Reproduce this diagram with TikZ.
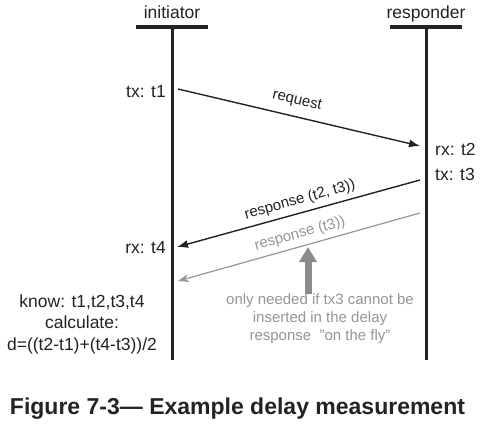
\documentclass[tikz,border=0pt]{standalone}
\usepackage{fontspec}
\setmainfont{Liberation Sans}
\usetikzlibrary{arrows.meta}
\definecolor{ink}{RGB}{35,35,35}
\definecolor{lgray}{RGB}{150,150,150}
\definecolor{mgray}{RGB}{140,140,140}
\begin{document}
\begin{tikzpicture}[x=1pt,y=-1pt,
  lbl/.style={font=\fontsize{17.5}{21}\selectfont, text=ink, inner sep=0pt},
  msg/.style={font=\fontsize{15}{18}\selectfont, inner sep=0pt},
  note/.style={font=\fontsize{15}{18}\selectfont, text=lgray, inner sep=0pt, anchor=base},
  life/.style={line width=3pt, draw=ink},
  bar/.style={line width=3.5pt, draw=ink},
  blackarrow/.style={line width=1.4pt, draw=ink, -{Latex[length=11pt,width=8pt]}},
  grayarrow/.style={line width=1.2pt, draw=lgray, -{Stealth[length=11pt,width=8pt]}},
  bigarrow/.style={line width=7pt, draw=mgray, -{Triangle[length=15pt,width=17pt]}},
]
\useasboundingbox (0,0) rectangle (480,424);
\fill[white] (0,0) rectangle (480,424);

% headers
\node[lbl, anchor=base] (init) at (172,18) {initiator};
\node[lbl, anchor=base] (resp) at (426,18) {responder};

% lifelines
\coordinate (iL) at (136,27); \coordinate (iR) at (208,27);
\coordinate (rL) at (390,27); \coordinate (rR) at (462,27);
\coordinate (iTop) at (172,27); \coordinate (iBot) at (172,360);
\coordinate (rTop) at (426,27); \coordinate (rBot) at (426,360);
\draw[bar] (iL) -- (iR);
\draw[bar] (rL) -- (rR);
\draw[life] (iTop) -- (iBot);
\draw[life] (rTop) -- (rBot);

% time labels
\node[lbl, anchor=base east] (tx1) at (166,97) {tx: t1};
\node[lbl, anchor=base west] (rx2) at (435,155) {rx: t2};
\node[lbl, anchor=base west] (tx3) at (435,180) {tx: t3};
\node[lbl, anchor=base east] (rx4) at (166,253) {rx: t4};

% message events
\coordinate (e1) at (178,89);
\coordinate (e2) at (420,146);
\coordinate (e3) at (420,180);
\coordinate (e4) at (177,247);
\coordinate (g3) at (420,213);
\coordinate (g4) at (178,281);

\draw[blackarrow] (e1) -- (e2);
\draw[blackarrow] (e3) -- (e4);
\draw[grayarrow] (g3) -- (g4);

\node[msg, text=ink, rotate=-13] (req) at (297,101) {request};
\node[msg, text=ink, rotate=15.5] (rsp1) at (300,200) {response (t2, t3))};
\node[msg, text=lgray, rotate=15.5] (rsp2) at (300,234) {response (t3))};

% thick gray pointer
\coordinate (up0) at (308,294);
\coordinate (up1) at (308,247);
\draw[bigarrow] (up0) -- (up1);

% note text
\node[note] (n1) at (320,304) {only needed if tx3 cannot be};
\node[note] (n2) at (320,322) {inserted in the delay};
\node[note] (n3) at (320,340) {response~~"on the fly"};

% left text
\node[lbl, anchor=base] (k1) at (82,307) {know: t1,t2,t3,t4};
\node[lbl, anchor=base] (k2) at (82,328.5) {calculate:};
\node[lbl, anchor=base] (k3) at (82,350) {d=((t2-t1)+(t4-t3))/2};

% caption
\node[font=\bfseries\fontsize{23}{27}\selectfont, text=ink, inner sep=0pt, anchor=base] (cap) at (237.5,414) {Figure 7-3— Example delay measurement};
\end{tikzpicture}
\end{document}
